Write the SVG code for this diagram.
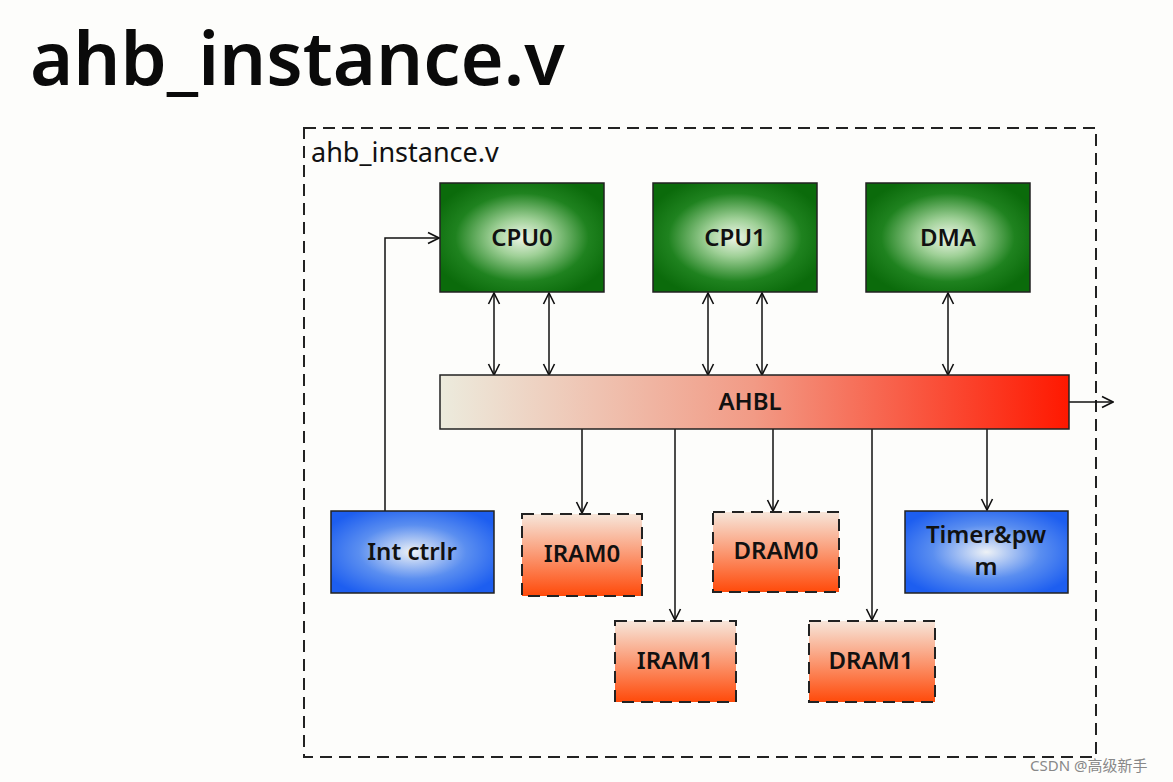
<svg xmlns="http://www.w3.org/2000/svg" width="1173" height="782" viewBox="0 0 1173 782">
<style>
.lbl{font-family:"Noto Sans","Open Sans","DejaVu Sans",sans-serif;font-weight:600;font-size:24px;fill:#111;text-anchor:middle}
.solid{stroke:#222;stroke-width:1.5}
.dash{stroke:#222;stroke-width:2;stroke-dasharray:12 7}
.con{fill:none;stroke:#111;stroke-width:1.5}
</style>
<defs>
<radialGradient id="gGreen" cx="50%" cy="50%" r="58%">
<stop offset="0" stop-color="#eef6e8"/>
<stop offset="0.3" stop-color="#9fd097"/>
<stop offset="0.7" stop-color="#1f821f"/>
<stop offset="1" stop-color="#0b6b0b"/>
</radialGradient>
<radialGradient id="gBlue" cx="50%" cy="50%" r="60%">
<stop offset="0" stop-color="#eef2f6"/>
<stop offset="0.55" stop-color="#5a8ef0"/>
<stop offset="1" stop-color="#1d5ef0"/>
</radialGradient>
<linearGradient id="gOrange" x1="0" y1="0" x2="0" y2="1">
<stop offset="0" stop-color="#f7e6da"/>
<stop offset="1" stop-color="#ff4a0a"/>
</linearGradient>
<linearGradient id="gBus" x1="0" y1="0" x2="1" y2="0">
<stop offset="0" stop-color="#ecebdd"/>
<stop offset="0.5" stop-color="#f29a85"/>
<stop offset="1" stop-color="#ff1800"/>
</linearGradient>
<marker id="arr" viewBox="0 0 14 14" refX="13" refY="7" markerWidth="14" markerHeight="14" markerUnits="userSpaceOnUse" orient="auto-start-reverse">
<path d="M2,1.5 L13,7 L2,12.5" fill="none" stroke="#111" stroke-width="1.6"/>
</marker>
</defs>
<rect width="1173" height="782" fill="#fdfdfb"/>
<text x="30" y="85" font-family="Noto Sans, Open Sans, sans-serif" font-weight="600" font-size="74" fill="#0a0a0a">ahb_instance.v</text>
<g id="container">
<rect x="304" y="128" width="792" height="629" fill="none" class="dash"/>
<text x="311" y="162" font-family="Noto Sans, Open Sans, sans-serif" font-size="27" fill="#111">ahb_instance.v</text>
</g>
<g id="connectors">
<line x1="494" y1="293" x2="494" y2="375" class="con" marker-start="url(#arr)" marker-end="url(#arr)"/>
<line x1="549" y1="293" x2="549" y2="375" class="con" marker-start="url(#arr)" marker-end="url(#arr)"/>
<line x1="708" y1="293" x2="708" y2="375" class="con" marker-start="url(#arr)" marker-end="url(#arr)"/>
<line x1="762" y1="293" x2="762" y2="375" class="con" marker-start="url(#arr)" marker-end="url(#arr)"/>
<line x1="948" y1="293" x2="948" y2="375" class="con" marker-start="url(#arr)" marker-end="url(#arr)"/>
<line x1="1069" y1="402" x2="1113" y2="402" class="con" marker-end="url(#arr)"/>
<line x1="582" y1="429" x2="582" y2="513" class="con" marker-end="url(#arr)"/>
<line x1="675" y1="429" x2="675" y2="620" class="con" marker-end="url(#arr)"/>
<line x1="773" y1="429" x2="773" y2="511" class="con" marker-end="url(#arr)"/>
<line x1="872" y1="429" x2="872" y2="620" class="con" marker-end="url(#arr)"/>
<line x1="987" y1="429" x2="987" y2="510" class="con" marker-end="url(#arr)"/>
<polyline points="385,511 385,238 439,238" class="con" marker-end="url(#arr)"/>
</g>
<g id="cpu0"><rect x="440" y="183" width="164" height="109" fill="url(#gGreen)" class="solid"/><text x="522" y="246" class="lbl">CPU0</text></g>
<g id="cpu1"><rect x="653" y="183" width="164" height="109" fill="url(#gGreen)" class="solid"/><text x="735" y="246" class="lbl">CPU1</text></g>
<g id="dma"><rect x="866" y="183" width="164" height="109" fill="url(#gGreen)" class="solid"/><text x="948" y="246" class="lbl">DMA</text></g>
<g id="ahbl"><rect x="440" y="375" width="629" height="54" fill="url(#gBus)" class="solid"/><text x="750" y="410" class="lbl">AHBL</text></g>
<g id="intctrlr"><rect x="331" y="511" width="163" height="82" fill="url(#gBlue)" class="solid"/><text x="412" y="560" class="lbl">Int ctrlr</text></g>
<g id="iram0"><rect x="522" y="514" width="120" height="82" fill="url(#gOrange)" class="dash"/><text x="582" y="562" class="lbl">IRAM0</text></g>
<g id="dram0"><rect x="713" y="512" width="126" height="80" fill="url(#gOrange)" class="dash"/><text x="776" y="559" class="lbl">DRAM0</text></g>
<g id="timer"><rect x="905" y="511" width="163" height="82" fill="url(#gBlue)" class="solid"/><text x="986" y="543" class="lbl">Timer&amp;pw</text><text x="986" y="575" class="lbl">m</text></g>
<g id="iram1"><rect x="615" y="621" width="121" height="81" fill="url(#gOrange)" class="dash"/><text x="675" y="669" class="lbl">IRAM1</text></g>
<g id="dram1"><rect x="809" y="621" width="126" height="81" fill="url(#gOrange)" class="dash"/><text x="871" y="669" class="lbl">DRAM1</text></g>
<text x="1030" y="771" font-family="Noto Sans, Noto Sans CJK SC, sans-serif" font-size="15" fill="#888">CSDN @高级新手</text>
</svg>
